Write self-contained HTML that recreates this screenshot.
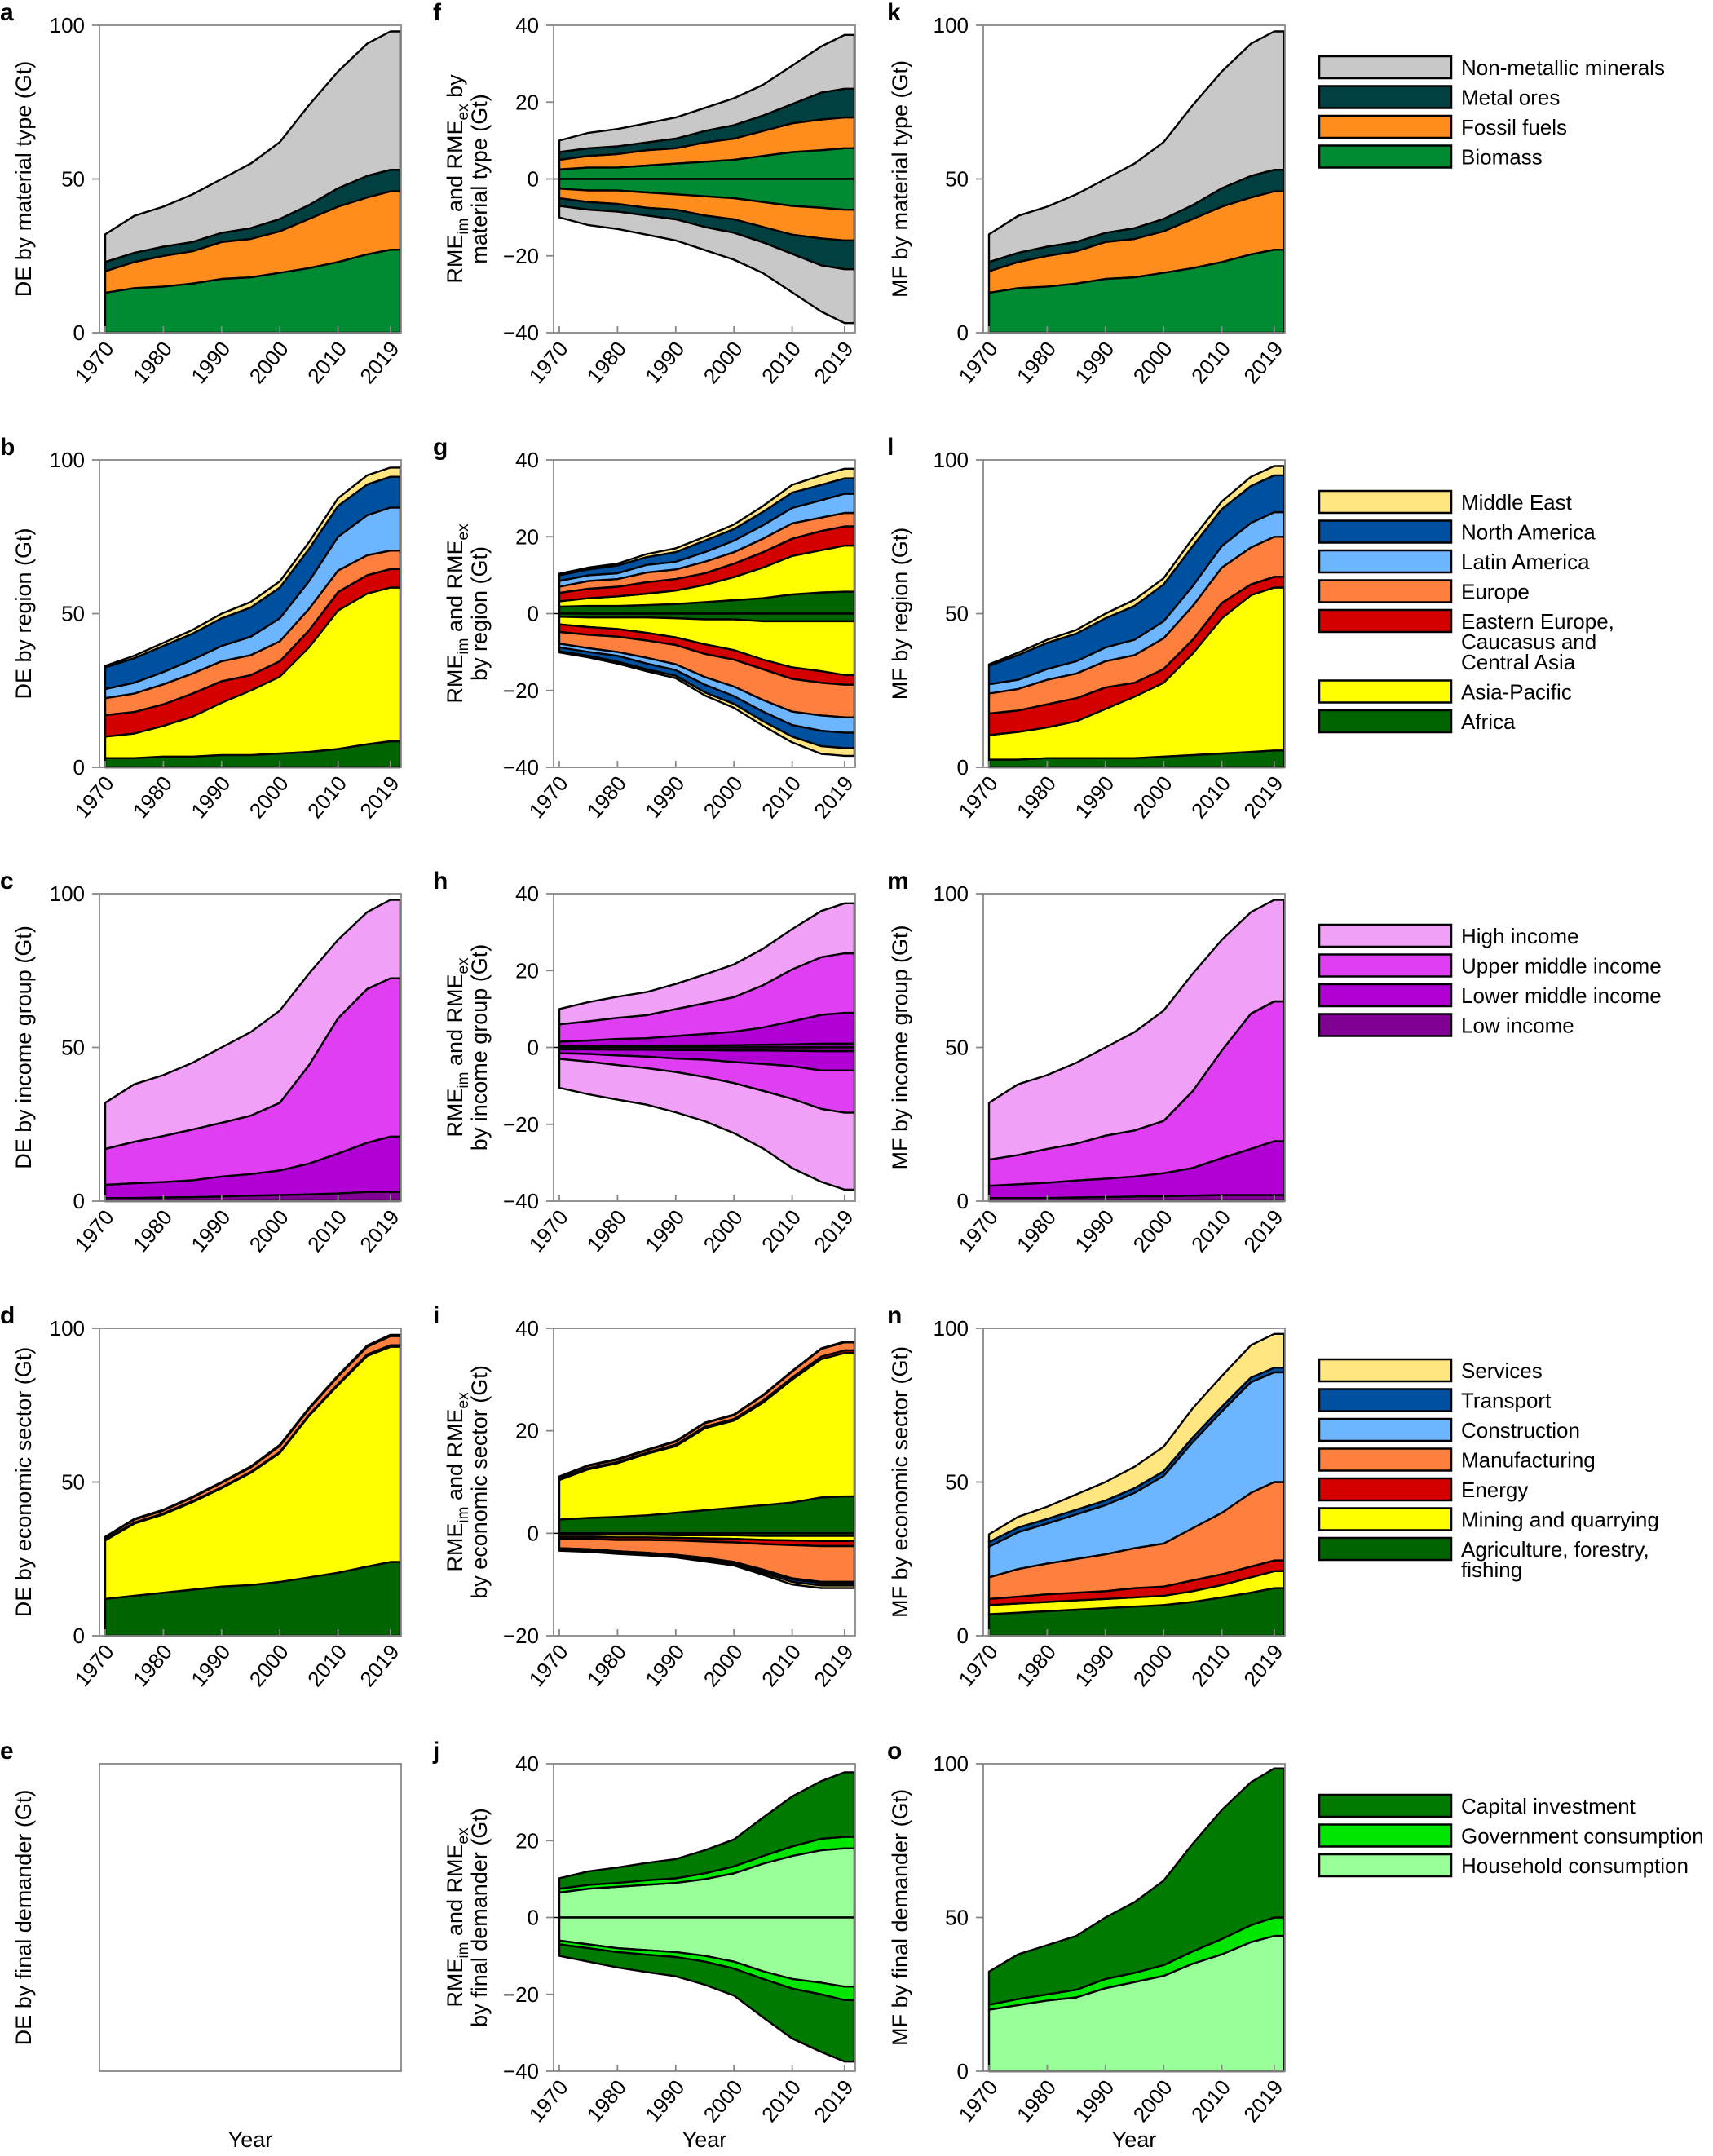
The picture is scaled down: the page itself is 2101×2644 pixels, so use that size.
<!DOCTYPE html>
<html><head><meta charset="utf-8">
<style>
html,body{margin:0;padding:0;background:#fff;}
svg{display:block;font-family:"Liberation Sans",Arial,sans-serif;}
</style></head>
<body>
<svg id="fig" width="2101" height="2644" viewBox="0 0 2101 2644" xmlns="http://www.w3.org/2000/svg"></svg>
<script>
// ---------- data ----------
const YEARS=[1970,1975,1980,1985,1990,1995,2000,2005,2010,2015,2019];
// a / k : DE and MF by material type
const a_biomass=[13,14.5,15,16,17.5,18,19.5,21,23,25.5,27];
const a_fossil=[7,8.5,10,10.5,12,12.5,13.5,16,18,18.5,19];
const a_metal=[3,3,3,3,3,3.5,4,4.5,6,7,7];
const a_nonmet=[9,12,13,15.5,17.5,21,25,32.5,38,43,45];
// f : RME by material type (imports +, exports -)
const f_biomass=[2.5,3,3,3.5,4,4.5,5,6,7,7.5,8];
const f_fossil=[2.5,3,3.5,4,4,5,5.5,6.5,7.5,8,8];
const f_metal=[2,2,2,2,2.5,3,3.5,4,5,7,7.5];
const f_nonmet=[3,4,4.5,5,5.5,6,7,8,10,12,14];
const fx_biomass=[2.5,3,3,3.5,4,4.5,5,6,7,7.5,8];
const fx_fossil=[2.5,3,3.5,4,4,5,5.5,6.5,7.5,8,8];
const fx_metal=[2,2,2,2,2.5,3,3.5,4,5,7,7.5];
const fx_nonmet=[3,4,4.5,5,5.5,6,7,8,10,12,14];
// b : DE by region
const b_africa=[3,3,3.5,3.5,4,4,4.5,5,6,7.5,8.5];
const b_asia=[7,8,10,13,17,21,25,34,45,49,50];
const b_eeca=[7,7,7,7.5,7,5,5,5.5,6,6,6];
const b_europe=[5.5,6,6.5,6.5,6.5,6.5,6.5,7,7,6.5,6];
const b_latam=[3,3.5,4,4.5,5,6,7.5,9,11,13,14];
const b_namer=[7,8,8.5,8.5,9,9.5,10,10.5,10,10,10];
const b_mideast=[0.5,0.8,1,1.2,1.5,1.8,2,2.2,2.5,3,3];
// l : MF by region
const l_africa=[2.5,2.5,3,3,3,3,3.5,4,4.5,5,5.5];
const l_asia=[8,9,10,12,16,20,24,33,44,51,53];
const l_eeca=[7,7,7.5,7.5,7,4.5,4.5,4.5,5,3.5,3.5];
const l_europe=[6.5,7,8,8,8.5,9,10,11,11.5,12,13];
const l_latam=[3,3,3.5,4,4.5,5,5.5,6.5,7,8,8];
const l_namer=[6,8,8.5,9,9.5,11,12,13,12,12,12];
const l_mideast=[0.5,0.8,1,1.2,1.5,2,2,2.5,2.5,3,3];
// g : RME by region
const g_africa=[1.8,2,2,2.2,2.5,3,3.5,4,5,5.5,5.7];
const g_asia=[1.4,2,2.5,3,3.5,4.5,6,8,10,11,12];
const g_eeca=[2.2,2.5,2.5,3,3,3,3.5,4,4.5,5,5];
const g_europe=[1.6,2,2,2.5,2.5,3,3,3.5,4,3.5,3.5];
const g_latam=[1.5,1.5,1.5,2,2,2.5,3,3.5,4,4.5,5];
const g_namer=[1.5,1.5,2,2,2.5,3,3,3.5,4,4,4];
const g_mideast=[0.4,0.5,0.5,0.8,1,1,1.2,1.5,2,2.5,2.5];
const gx_africa=[0.8,1,1,1,1.2,1.5,1.5,2,2,2,2];
const gx_asia=[2,2.5,3,4,5,6.5,8,10,12,13,14];
const gx_eeca=[2,2,2,2,2,2.5,2.5,2.5,3,3,2.5];
const gx_europe=[3,3.5,4,4.5,5,6,7,8,8.5,8.5,8.5];
const gx_latam=[1,1,1,1.5,1.5,2,2.5,3,3.5,4,4];
const gx_namer=[1,1,1.5,1.5,1.5,2,2,2.5,3,4,4];
const gx_mideast=[0.3,0.4,0.5,0.5,0.6,0.8,1,1.2,1.5,2,2];
// c : DE by income
const c_low=[1,1,1.2,1.3,1.5,1.8,2,2.2,2.5,3,3];
const c_lowmid=[4.3,4.8,5,5.5,6.5,7,8,10,13,16,18];
const c_upmid=[11.7,13.5,15,16.5,17.5,19,22,32,44,50,51.5];
const c_high=[15,18.7,19.8,21.7,24.5,27.2,30,29.8,25.5,25,25.5];
// m : MF by income
const m_low=[1,1,1,1.2,1.3,1.5,1.6,1.8,2,2,2];
const m_lowmid=[4,4.5,5,5.5,6,6.5,7.5,9,12,15,17.5];
const m_upmid=[8.5,9.5,11,12,14,15,17,25,35,44,45.5];
const m_high=[18.5,23,24,26.3,28.7,32,35.9,38.2,36,33,33];
// h : RME by income
const h_low=[0.3,0.3,0.4,0.4,0.5,0.5,0.6,0.7,0.8,1,1];
const h_lowmid=[1.2,1.5,1.8,2,2.5,3,3.5,4.5,6,7.5,8];
const h_upmid=[4.5,5,5.5,6,7,8,9,11,13.5,15,15.5];
const h_high=[4,5,5.5,6,6.5,7.5,8.5,9.5,10.5,12,13];
const hx_low=[0.5,0.5,0.6,0.6,0.7,0.7,0.8,0.8,0.9,1,1];
const hx_lowmid=[1,1.2,1.5,1.8,2.2,2.5,3,3.5,4,5,5];
const hx_upmid=[1.5,2,2.5,3,3.5,4.5,5.5,7,8.5,10,11];
const hx_high=[7.5,8.5,9,9.5,10.5,11.5,13,15,18,19,20];
// d : DE by sector
const d_agri=[12,13,14,15,16,16.5,17.5,19,20.5,22.5,24];
const d_mining=[19,23.5,25.5,28.5,32,36.5,42,52.5,61,68.5,70];
const d_energy=[0.3,0.3,0.3,0.3,0.3,0.3,0.3,0.3,0.4,0.5,0.5];
const d_manuf=[0.7,1,1,1.2,1.5,1.5,2,2,2.5,2.5,3];
const d_constr=[0,0,0,0,0,0,0,0,0,0,0];
const d_transp=[0,0,0,0,0,0,0,0,0,0,0];
const d_serv=[0.2,0.2,0.2,0.2,0.2,0.3,0.3,0.3,0.3,0.4,0.4];
// i : RME by sector
const i_agri=[2.7,3,3.2,3.5,4,4.5,5,5.5,6,7,7.2];
const i_mining=[7.7,9.5,10.5,12,13,16,17,20,24,27,28];
const i_energy=[0.2,0.2,0.2,0.2,0.3,0.3,0.3,0.4,0.4,0.5,0.5];
const i_manuf=[0.4,0.5,0.5,0.5,0.6,0.7,0.8,1,1.2,1.5,1.6];
const i_constr=[0,0,0,0,0,0,0,0,0,0,0];
const i_transp=[0,0,0,0,0,0,0,0,0,0,0];
const i_serv=[0.1,0.1,0.1,0.1,0.1,0.1,0.1,0.1,0.1,0.1,0.1];
const ix_agri=[0.3,0.3,0.3,0.3,0.4,0.4,0.4,0.5,0.5,0.5,0.5];
const ix_mining=[0.4,0.4,0.5,0.5,0.5,0.6,0.7,0.8,0.9,1,1];
const ix_energy=[0.4,0.4,0.5,0.5,0.5,0.6,0.7,0.8,0.9,1,1];
const ix_manuf=[1.8,2,2.2,2.5,2.8,3.2,3.8,5,6.5,7,7];
const ix_constr=[0.1,0.1,0.1,0.1,0.1,0.1,0.1,0.2,0.2,0.2,0.2];
const ix_transp=[0.2,0.2,0.2,0.2,0.2,0.3,0.3,0.4,0.5,0.5,0.5];
const ix_serv=[0.2,0.2,0.2,0.2,0.2,0.3,0.3,0.4,0.5,0.5,0.5];
// n : MF by sector
const n_agri=[7,7.5,8,8.5,9,9.5,10,11,12.5,14,15.5];
const n_mining=[3,3,3,3,3,3,3,3.5,4,5,5.5];
const n_energy=[2,2.2,2.5,2.5,2.5,3,3,3.5,3.5,3.5,3.5];
const n_manuf=[7,9,10,11,12,13,14,17,20,24,25.5];
const n_constr=[10,12,13,14.5,16,18,22,28,33,36,35.7];
const n_transp=[1.5,1.5,1.5,1.5,1.5,1.5,1.5,1.5,1.5,1.5,1.5];
const n_serv=[2.5,3.5,4,5,6,7,8,9.5,10,10.5,11];
// j : RME by final demander
const j_house=[6.5,7.5,8,8.5,9,10,11.5,14,16,17.5,18];
const j_gov=[1,1,1,1.2,1.2,1.5,1.8,2,2.5,3,3];
const j_capital=[2.7,3.5,4,4.5,5,6,7,10,13,15,16.8];
const jx_house=[6,7,8,8.5,9,10,11.5,14,16,17,18];
const jx_gov=[1,1,1,1.2,1.3,1.5,1.8,2,2.5,3,3.5];
const jx_capital=[3,3.5,4,4.5,5,6,7,10,13,15,16];
// o : MF by final demander
const o_house=[20,21.5,23,24,27,29,31,35,38,42,44];
const o_gov=[1.6,2,2,2.5,3,3,3.5,4,5,5.5,6];
const o_capital=[10.8,14.5,16,17.5,20,23,27.5,35,42,46.5,48.5];

const X_TICKS=[1970,1980,1990,2000,2010,2019];
const TICKS_0_100=[0,50,100];
const TICKS_40=[-40,-20,0,20,40];
const TICKS_I=[-20,0,20,40];

const LEG_MAT=["Non-metallic minerals","Metal ores","Fossil fuels","Biomass"];
const LEG_REG=["Middle East","North America","Latin America","Europe","Eastern Europe,|Caucasus and|Central Asia","Asia-Pacific","Africa"];
const LEG_INC=["High income","Upper middle income","Lower middle income","Low income"];
const LEG_SEC=["Services","Transport","Construction","Manufacturing","Energy","Mining and quarrying","Agriculture, forestry,|fishing"];
const LEG_FD=["Capital investment","Government consumption","Household consumption"];

// ---------- styles ----------
const C_MAT=["#008a33","#ff8d1e","#023f40","#c8c8c8"];
const C_REG=["#006400","#ffff00","#d40000","#ff7f3f","#6db6ff","#0050a0","#ffe680"];
const C_INC=["#800094","#b000d4","#e03ef2","#f0a0f6"];
const C_SEC=["#006400","#ffff00","#d40000","#ff7f3f","#6db6ff","#0050a0","#ffe680"];
const C_FD=["#99ff99","#00e600","#007a00"];

const svg=document.getElementById('fig');
const NS="http://www.w3.org/2000/svg";
function el(tag,attrs,parent){const e=document.createElementNS(NS,tag);for(const k in attrs)e.setAttribute(k,attrs[k]);(parent||svg).appendChild(e);return e;}

const COLS=[122,679,1206], PW=370;
const ROWS=[31,564,1096,1629,2163], PH=377;
const LETTER_X=[0,531,1088];
const X0OFF=7, PERYR=7.14;

function drawPanel(key,col,row,ymin,ymax,yticks,pos,neg,colors,letter,ylab,ylab2,rme){
  const L=COLS[col],T=ROWS[row],R=L+PW,B=T+PH;
  const g=el('g',{});
  
  
  const xs=yr=>L+X0OFF+(yr-1970)*PERYR;
  const ys=v=>B-(v-ymin)/(ymax-ymin)*PH;
  const xsPts=YEARS.map(xs); xsPts.push(R-1);
  function ext(arr){return arr.concat([arr[arr.length-1]]);}
  function stack(layers,sign,prefix){
    let base=xsPts.map(()=>0);
    layers.forEach((layer,li)=>{
      const v=ext(layer);
      const top=base.map((b,k)=>b+sign*v[k]);
      let d='M'+xsPts.map((x,k)=>x.toFixed(1)+','+ys(top[k]).toFixed(1)).join(' L');
      for(let k=xsPts.length-1;k>=0;k--) d+=' L'+xsPts[k].toFixed(1)+','+ys(base[k]).toFixed(1);
      d+='Z';
      const p=el('path',{d:d,fill:colors[li],stroke:'#000','stroke-width':2.4,'stroke-linejoin':'round'},g);
      
      
      base=top;
    });
  }
  if(pos) stack(pos,1,key+'-pos');
  if(neg) stack(neg,-1,key+'-neg');
  if(rme){
    const z=el('line',{x1:L,x2:R,y1:ys(0),y2:ys(0),stroke:'#000','stroke-width':1.5},g);
    
    
  }
  const fr=el('rect',{x:L,y:T,width:PW,height:PH,fill:'none',stroke:'#888','stroke-width':1.8},g);
  
  
  if(yticks){
    yticks.forEach(v=>{
      el('line',{x1:L-9,x2:L,y1:ys(v),y2:ys(v),stroke:'#888','stroke-width':1.8},g);
      const t=el('text',{x:L-18,y:ys(v)+9,'text-anchor':'end','font-size':26,fill:'#000'},g);
      t.textContent=(v<0?'\u2212'+(-v):String(v));
      
      
    });
    X_TICKS.forEach(yr=>{
      const x=xs(yr);
      el('line',{x1:x,x2:x,y1:B,y2:B-8,stroke:'#888','stroke-width':1.8},g);
      const t=el('text',{'text-anchor':'end','font-size':26,fill:'#000',transform:'translate('+(x+12)+','+(B+20)+') rotate(-50)'},g);
      t.textContent=String(yr);
      
      
    });
  }
  const lt=el('text',{x:LETTER_X[col],y:T-6,'font-size':30,'font-weight':'bold',fill:'#000'},g);
  lt.textContent=letter;
  
  
  const cy=T+PH/2;
  if(!rme){
    const tx=col===0?38:L-93;
    const t=el('text',{'text-anchor':'middle','font-size':27,fill:'#000',transform:'translate('+tx+','+cy+') rotate(-90)'},g);
    t.textContent=ylab;
    
    
  } else {
    const t=el('text',{'text-anchor':'middle','font-size':27,fill:'#000',transform:'translate('+(L-112)+','+cy+') rotate(-90)'},g);
    
    
    t.innerHTML='RME<tspan font-size="19" dy="7">im</tspan><tspan dy="-7"> and RME</tspan><tspan font-size="19" dy="7">ex</tspan><tspan dy="-7">'+ylab+'</tspan>';
    const t2=el('text',{'text-anchor':'middle','font-size':27,fill:'#000',transform:'translate('+(L-82)+','+cy+') rotate(-90)'},g);
    t2.textContent=ylab2;
    
    
  }
}

function drawLegend(row,names,colors,key){
  const g=el('g',{});
  
  
  let y=ROWS[row]+38;
  names.forEach((nm,i)=>{
    const r=el('rect',{x:1618,y:y,width:162,height:27,fill:colors[i],stroke:'#000','stroke-width':2.5},g);
    
    
    const lines=nm.split('|');
    lines.forEach((ln,k)=>{
      const t=el('text',{x:1792,y:y+23+k*25,'font-size':26,fill:'#000'},g);
      t.textContent=ln;
      
      
    });
    y+=36.5+(lines.length-1)*25;
  });
}

drawLegend(0,LEG_MAT,["#c8c8c8","#023f40","#ff8d1e","#008a33"],'material');
drawLegend(1,LEG_REG,["#ffe680","#0050a0","#6db6ff","#ff7f3f","#d40000","#ffff00","#006400"],'region');
drawLegend(2,LEG_INC,["#f0a0f6","#e03ef2","#b000d4","#800094"],'income');
drawLegend(3,LEG_SEC,["#ffe680","#0050a0","#6db6ff","#ff7f3f","#d40000","#ffff00","#006400"],'sector');
drawLegend(4,LEG_FD,["#007a00","#00e600","#99ff99"],'final-demand');

drawPanel('a',0,0,0,100,TICKS_0_100,[a_biomass,a_fossil,a_metal,a_nonmet],null,C_MAT,'a','DE by material type (Gt)');
drawPanel('f',1,0,-40,40,TICKS_40,[f_biomass,f_fossil,f_metal,f_nonmet],[fx_biomass,fx_fossil,fx_metal,fx_nonmet],C_MAT,'f',' by','material type (Gt)',true);
drawPanel('k',2,0,0,100,TICKS_0_100,[a_biomass,a_fossil,a_metal,a_nonmet],null,C_MAT,'k','MF by material type (Gt)');

drawPanel('b',0,1,0,100,TICKS_0_100,[b_africa,b_asia,b_eeca,b_europe,b_latam,b_namer,b_mideast],null,C_REG,'b','DE by region (Gt)');
drawPanel('g',1,1,-40,40,TICKS_40,[g_africa,g_asia,g_eeca,g_europe,g_latam,g_namer,g_mideast],[gx_africa,gx_asia,gx_eeca,gx_europe,gx_latam,gx_namer,gx_mideast],C_REG,'g','','by region (Gt)',true);
drawPanel('l',2,1,0,100,TICKS_0_100,[l_africa,l_asia,l_eeca,l_europe,l_latam,l_namer,l_mideast],null,C_REG,'l','MF by region (Gt)');

drawPanel('c',0,2,0,100,TICKS_0_100,[c_low,c_lowmid,c_upmid,c_high],null,C_INC,'c','DE by income group (Gt)');
drawPanel('h',1,2,-40,40,TICKS_40,[h_low,h_lowmid,h_upmid,h_high],[hx_low,hx_lowmid,hx_upmid,hx_high],C_INC,'h','','by income group (Gt)',true);
drawPanel('m',2,2,0,100,TICKS_0_100,[m_low,m_lowmid,m_upmid,m_high],null,C_INC,'m','MF by income group (Gt)');

drawPanel('d',0,3,0,100,TICKS_0_100,[d_agri,d_mining,d_energy,d_manuf,d_constr,d_transp,d_serv],null,C_SEC,'d','DE by economic sector (Gt)');
drawPanel('i',1,3,-20,40,TICKS_I,[i_agri,i_mining,i_energy,i_manuf,i_constr,i_transp,i_serv],[ix_agri,ix_mining,ix_energy,ix_manuf,ix_constr,ix_transp,ix_serv],C_SEC,'i','','by economic sector (Gt)',true);
drawPanel('n',2,3,0,100,TICKS_0_100,[n_agri,n_mining,n_energy,n_manuf,n_constr,n_transp,n_serv],null,C_SEC,'n','MF by economic sector (Gt)');

drawPanel('e',0,4,0,100,null,null,null,C_FD,'e','DE by final demander (Gt)');
drawPanel('j',1,4,-40,40,TICKS_40,[j_house,j_gov,j_capital],[jx_house,jx_gov,jx_capital],C_FD,'j','','by final demander (Gt)',true);
drawPanel('o',2,4,0,100,TICKS_0_100,[o_house,o_gov,o_capital],null,C_FD,'o','MF by final demander (Gt)');

[307,864,1391].forEach((x,i)=>{
  const t=el('text',{x:x,y:2633,'text-anchor':'middle','font-size':27,fill:'#000'});
  t.textContent='Year';
  
  
});
</script>
</body></html>
